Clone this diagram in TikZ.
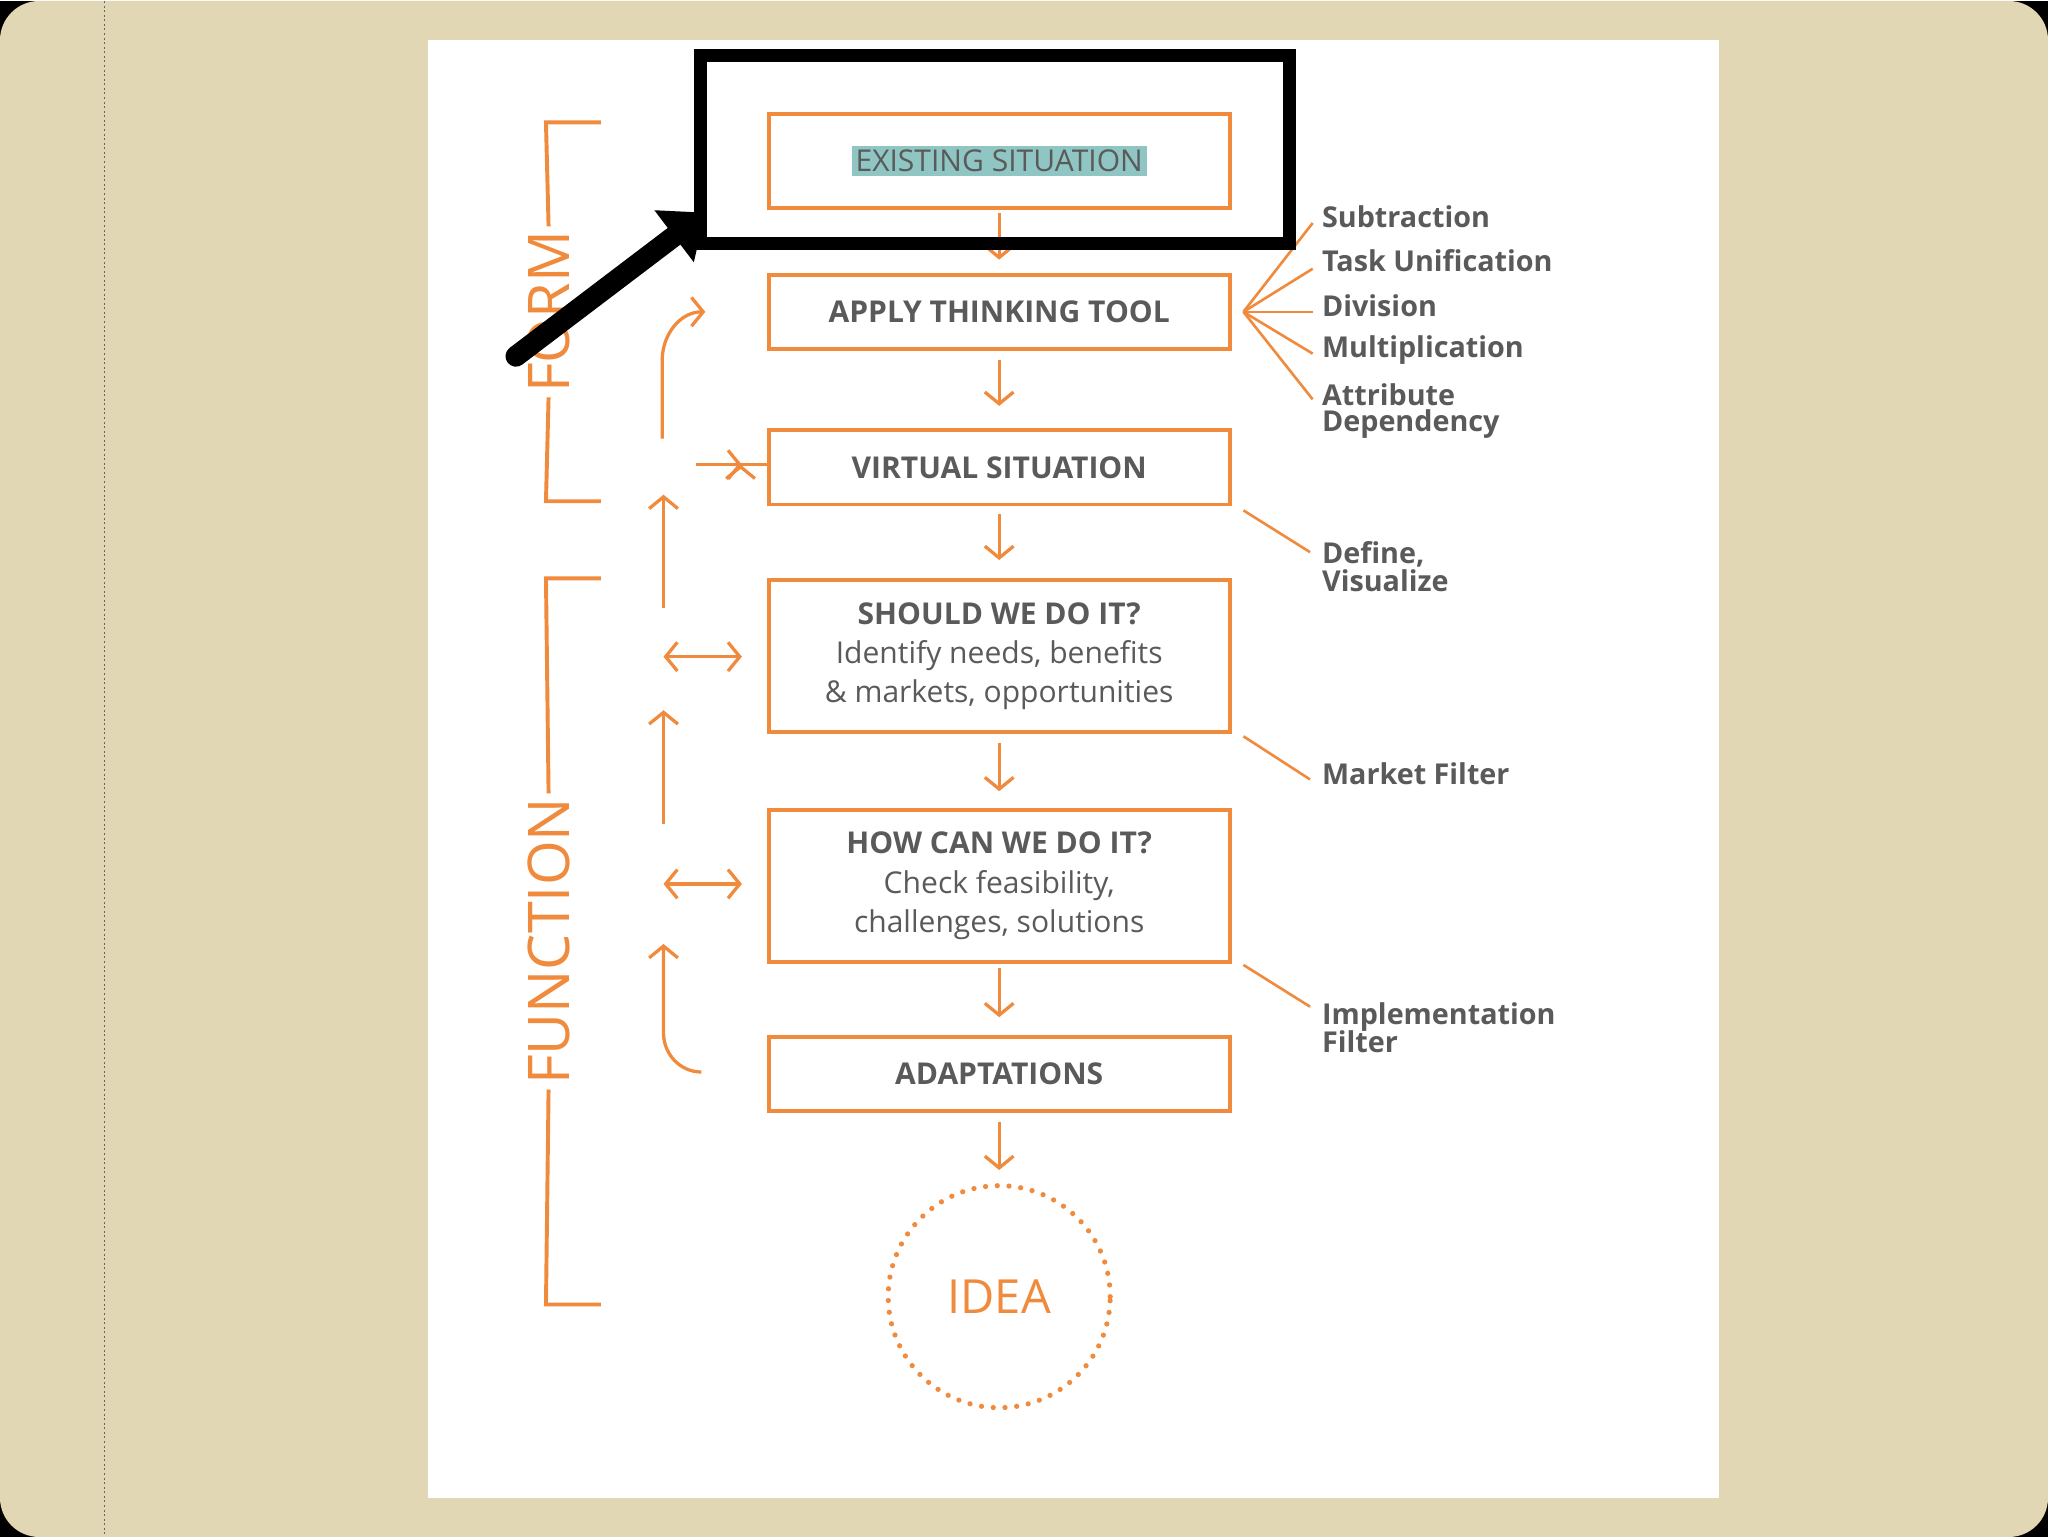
\documentclass[tikz,border=0pt]{standalone}
\usepackage{fontspec}
\setmainfont{Open Sans}
\usetikzlibrary{arrows.meta}
\definecolor{org}{HTML}{F08A3C}
\definecolor{txt}{HTML}{5A5A5A}
\definecolor{bg}{HTML}{E2D7B4}
\definecolor{hl}{HTML}{8FC6C4}
\tikzset{
 box/.style={draw=org,line width=3pt,minimum width=353pt,anchor=north,text=txt,font=\fontsize{23}{30}\selectfont\bfseries,align=center,inner sep=0pt},
 arr/.style={draw=org,line width=2.5pt,-{Straight Barb[length=9pt,width=22pt,line width=2.5pt]}},
 darr/.style={draw=org,line width=2.5pt,{Straight Barb[length=9pt,width=22pt,line width=2.5pt]}-{Straight Barb[length=9pt,width=22pt,line width=2.5pt]}},
 lab/.style={text=txt,font=\fontsize{22}{26}\selectfont\bfseries,anchor=west,inner sep=0pt,align=left},
 thinln/.style={draw=org,line width=2pt},
 brk/.style={draw=org,line width=3pt},
}
\begin{document}
\begin{tikzpicture}[x=1pt,y=-1pt]
\fill[black] (0,0) rectangle (1568,1176);
\fill[bg,rounded corners=30pt] (0,0) rectangle (1568,1176);
\draw[black!60,line width=1.5pt,dotted] (80,0) -- (80,1176);
\fill[white] (328,30) rectangle (1316,1146);
% boxes
\node[box,minimum height=72pt] (ex) at (765,85) {\colorbox{hl}{\textcolor{txt}{\mdseries EXISTING SITUATION}}};
\node[box,minimum height=57pt] (ap) at (765,208) {APPLY THINKING TOOL};
\node[box,minimum height=57pt] (vs) at (765,327) {VIRTUAL SITUATION};
\node[box,minimum height=116pt] (sh) at (765,442) {SHOULD WE DO IT?\\\mdseries Identify needs, benefits\\\mdseries\& markets, opportunities};
\node[box,minimum height=116pt] (hw) at (765,618) {HOW CAN WE DO IT?\\\mdseries Check feasibility,\\\mdseries challenges, solutions};
\node[box,minimum height=56pt] (ad) at (765,792) {ADAPTATIONS};
\node[draw=org,line width=4pt,dash pattern=on 0pt off 9pt,line cap=round,circle,minimum size=170pt,text=org,font=\fontsize{36}{40}\selectfont] (id) at (765,992) {IDEA};
% down arrows
\draw[arr] (ex.south|-0,162) -- (ap.north|-0,198);
\draw[arr] (ap.south|-0,275) -- (vs.north|-0,310);
\draw[arr] (vs.south|-0,393) -- (sh.north|-0,428);
\draw[arr] (sh.south|-0,568) -- (hw.north|-0,605);
\draw[arr] (hw.south|-0,740) -- (ad.north|-0,778);
\draw[arr] (ad.south|-0,858) -- (id.north|-0,895);
% brackets
\node[text=org,font=\fontsize{44}{48}\selectfont,rotate=90] (fm) at (420,238) {FORM};
\node[text=org,font=\fontsize{44}{48}\selectfont,rotate=90] (fn) at (420,720) {FUNCTION};
\draw[brk] (fm.east) -- (418,93) -- (460,93);
\draw[brk] (fm.west) -- (418,383) -- (460,383);
\draw[brk] (fn.east) -- (418,442) -- (460,442);
\draw[brk] (fn.west) -- (418,998) -- (460,998);
% left arrows
\coordinate (c1) at (507,335); \coordinate (c2) at (540,238);
\draw[arr] (c1) -- (507,275) to[out=90,in=180] (c2);
\coordinate (c3) at (533,355);
\draw[arr] (c3) -- (vs.west|-0,355) ++(-20,0);
\draw[arr] (c3) -- (568,355);
\coordinate (u1) at (508,465); \coordinate (u2) at (508,378);
\draw[arr] (u1) -- (u2);
\coordinate (u3) at (508,630); \coordinate (u4) at (508,543);
\draw[arr] (u3) -- (u4);
\coordinate (u5) at (537,820); \coordinate (u6) at (508,722);
\draw[arr] (u5) to[out=180,in=-90] (508,790) -- (u6);
\coordinate (d1) at (508,502); \coordinate (d2) at (508,676);
\draw[darr] (d1) -- (568,502);
\draw[darr] (d2) -- (568,676);
% right labels
\coordinate (f0) at (952,238);
\node[lab] (l1) at (1012,165) {Subtraction};
\node[lab] (l2) at (1012,199) {Task Unification};
\node[lab] (l3) at (1012,233) {Division};
\node[lab] (l4) at (1012,267) {Multiplication};
\node[lab] (l5) at (1012,314) {Attribute\\[-6pt]Dependency};
\foreach \y in {170,205,238,270,305} \draw[thinln] (f0) -- (1005,\y);
\node[lab] (l6) at (1012,433) {Define,\\[-4pt]Visualize};
\node[lab] (l7) at (1012,592) {Market Filter};
\node[lab] (l8) at (1012,786) {Implementation\\[-4pt]Filter};
\draw[thinln] (952,390) -- (1003,422);
\draw[thinln] (952,563) -- (1003,596);
\draw[thinln] (952,738) -- (1003,770);
% black highlight
\draw[black,line width=10pt] (536,42) rectangle (987,186);
\coordinate (k1) at (395,272); \coordinate (k2) at (540,162);
\draw[black,line width=16pt,line cap=round,-{Triangle[length=30pt,width=48pt]}] (k1) -- (k2);
\end{tikzpicture}
\end{document}
